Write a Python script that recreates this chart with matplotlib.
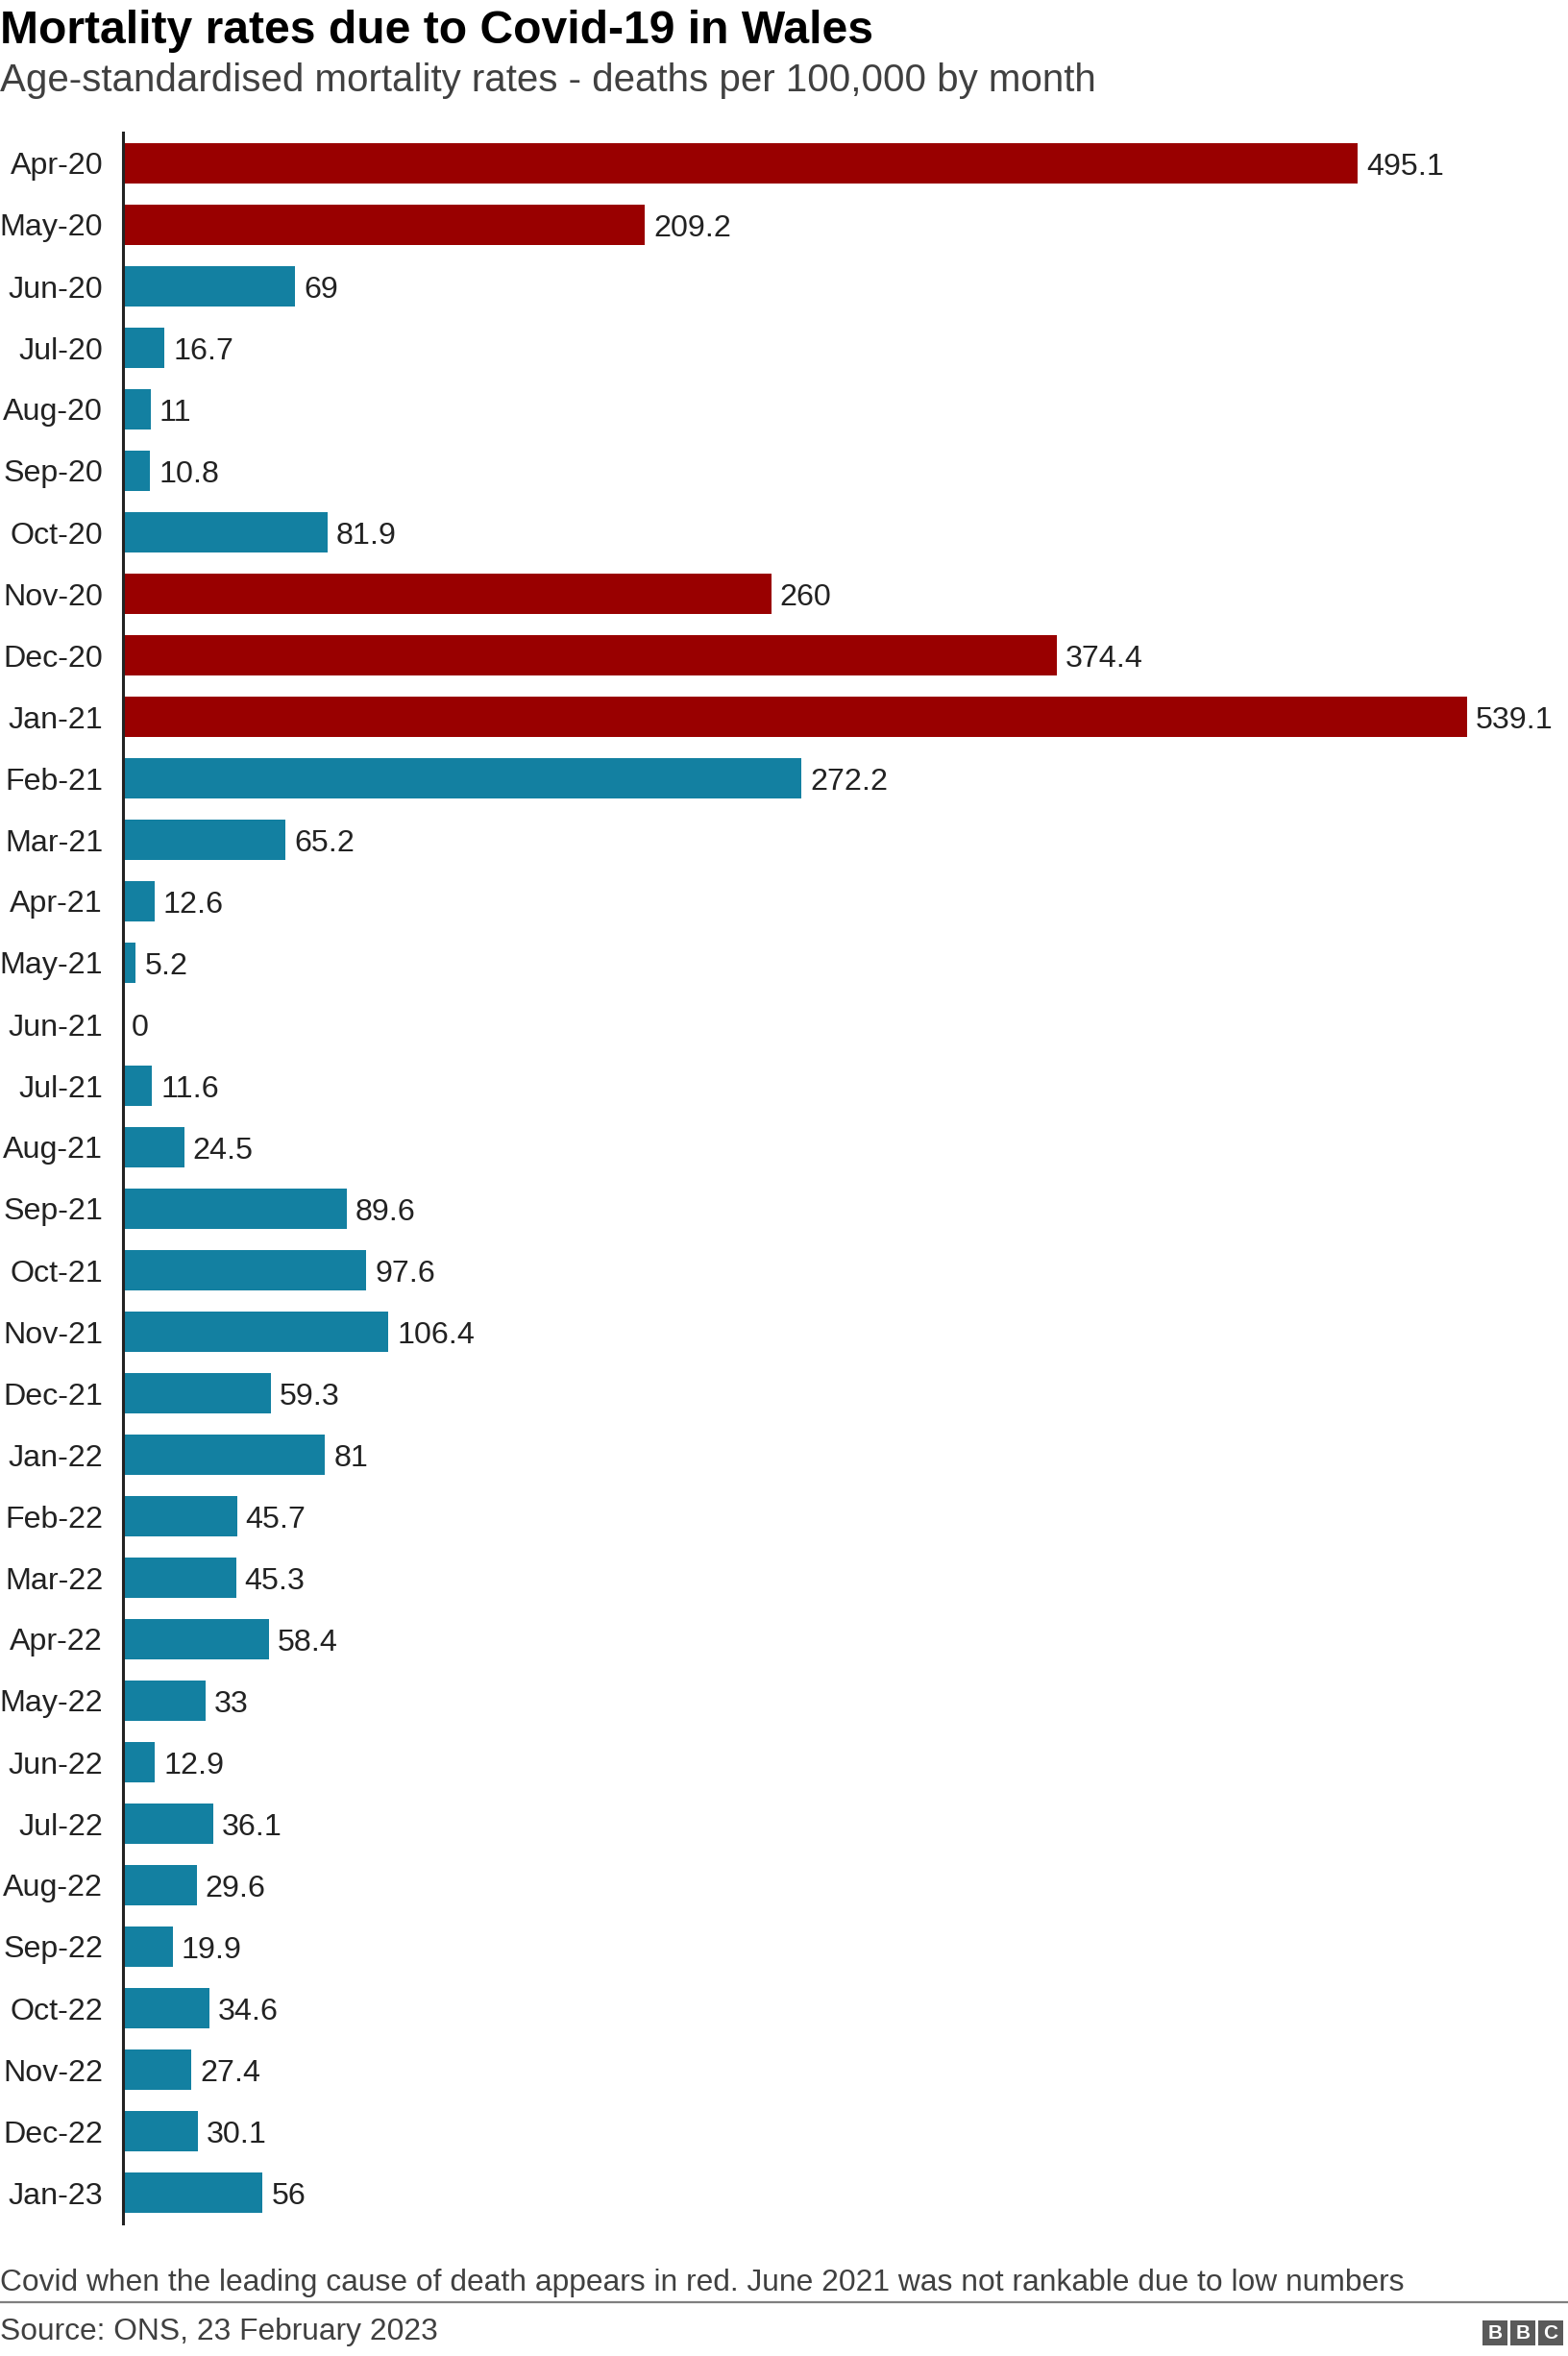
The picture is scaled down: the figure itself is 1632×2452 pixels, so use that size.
import matplotlib
matplotlib.use("Agg")
import matplotlib.pyplot as plt
from matplotlib.patches import Rectangle
from matplotlib.lines import Line2D

plt.rcParams['font.family'] = ['Liberation Sans', 'DejaVu Sans']

months = ["Apr-20", "May-20", "Jun-20", "Jul-20", "Aug-20", "Sep-20", "Oct-20",
          "Nov-20", "Dec-20", "Jan-21", "Feb-21", "Mar-21", "Apr-21", "May-21",
          "Jun-21", "Jul-21", "Aug-21", "Sep-21", "Oct-21", "Nov-21", "Dec-21",
          "Jan-22", "Feb-22", "Mar-22", "Apr-22", "May-22", "Jun-22", "Jul-22",
          "Aug-22", "Sep-22", "Oct-22", "Nov-22", "Dec-22", "Jan-23"]
rates = [495.1, 209.2, 69, 16.7, 11, 10.8, 81.9,
         260, 374.4, 539.1, 272.2, 65.2, 12.6, 5.2,
         0, 11.6, 24.5, 89.6, 97.6, 106.4, 59.3,
         81, 45.7, 45.3, 58.4, 33, 12.9, 36.1,
         29.6, 19.9, 34.6, 27.4, 30.1, 56]
leading = [True, True, False, False, False, False, False,
           True, True, True, False, False, False, False,
           False, False, False, False, False, False, False,
           False, False, False, False, False, False, False,
           False, False, False, False, False, False]
value_labels = ["495.1", "209.2", "69", "16.7", "11", "10.8", "81.9",
                "260", "374.4", "539.1", "272.2", "65.2", "12.6", "5.2",
                "0", "11.6", "24.5", "89.6", "97.6", "106.4", "59.3",
                "81", "45.7", "45.3", "58.4", "33", "12.9", "36.1",
                "29.6", "19.9", "34.6", "27.4", "30.1", "56"]

RED = "#990000"
BLUE = "#1380A1"

W, H = 1632, 2452
fig = plt.figure(figsize=(W / 100, H / 100), dpi=100)

n = len(months)
top_px, bot_px = 138, 2314
ax = fig.add_axes([128 / W, 1 - bot_px / H, 1 - 128 / W, (bot_px - top_px) / H])

colors = [RED if l else BLUE for l in leading]
y = list(range(n))
ax.barh(y, rates, height=0.67, color=colors, zorder=2)
ax.set_ylim(n - 0.5, -0.5)
ax.set_xlim(0, 579.6)

for yi, v, lab in zip(y, rates, value_labels):
    ax.annotate(lab, (v, yi), xytext=(6.5, 0), textcoords="offset points",
                ha="left", va="center_baseline", fontsize=23.2, color="#222222")

ax.set_yticks(y)
ax.set_yticklabels(months, fontsize=23.2, color="#222222")
ax.tick_params(axis="y", length=0, pad=15)
ax.set_xticks([])
for s in ["top", "right", "bottom"]:
    ax.spines[s].set_visible(False)
ax.spines["left"].set_linewidth(2.2)
ax.spines["left"].set_color("#222222")
ax.patch.set_alpha(0)

# Titles
fig.text(0 / W, 1 - 45 / H, "Mortality rates due to Covid-19 in Wales",
         fontsize=34.6, fontweight="bold", color="#000000", ha="left", va="baseline")
fig.text(0 / W, 1 - 95 / H, "Age-standardised mortality rates - deaths per 100,000 by month",
         fontsize=29, color="#404040", ha="left", va="baseline")

# Footer
fig.text(0 / W, 1 - 2384 / H,
         "Covid when the leading cause of death appears in red. June 2021 was not rankable due to low numbers",
         fontsize=22.9, color="#404040", ha="left", va="baseline")
fig.add_artist(Line2D([0, 1], [1 - 2396 / H, 1 - 2396 / H], color="#7f7f7f",
                      linewidth=1.6, transform=fig.transFigure))
fig.text(0 / W, 1 - 2435 / H, "Source: ONS, 23 February 2023",
         fontsize=22.9, color="#404040", ha="left", va="baseline")

# BBC logo
box_w, box_h, gap = 26, 26, 3
x0 = 1543
for i, letter in enumerate("BBC"):
    bx = x0 + i * (box_w + gap)
    fig.add_artist(Rectangle((bx / W, 1 - 2441 / H), box_w / W, box_h / H,
                             transform=fig.transFigure, facecolor="#5a5a5a",
                             edgecolor="none"))
    fig.text((bx + box_w / 2) / W, 1 - (2441 - box_h / 2) / H, letter,
             fontsize=15, fontweight="bold", color="white", ha="center", va="center")

fig.savefig("out.png", dpi=100, facecolor="white")
